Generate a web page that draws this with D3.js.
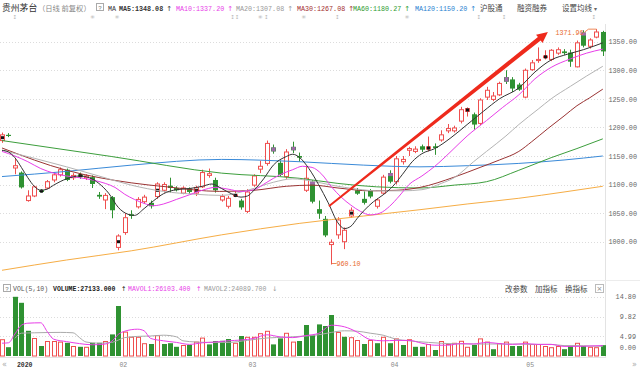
<!DOCTYPE html>
<html>
<head>
<meta charset="utf-8">
<title>贵州茅台 日线</title>
<script src="https://cdn.jsdelivr.net/npm/d3@7/dist/d3.min.js"></script>
<style>
  body { margin: 0; background: #fff; }
  #chart { width: 640px; height: 369px; overflow: hidden; }
  .mono { font-family: "Liberation Mono", "DejaVu Sans Mono", monospace; }
  .cjk { font-family: "Noto Sans CJK SC", sans-serif; }
  .sym { font-family: "DejaVu Sans", sans-serif; }
</style>
</head>
<body>
<div id="chart"></div>
<script>
// daily bars 2019-12-30 .. 2020-05-22, volume in 10k lots
const opens = [1177,1187,1129,1121,1072,1080,1090,1094,1108,1117,1126,1112,1118,1112,1113,1082,1073,1078,990,1016,
  1048,1061,1070,1068,1079,1090,1098,1094,1085,1093,1085,1096,1116,1108,1073,1062,1080,1072,1053,1099,
  1127,1137,1165,1138,1114,1166,1150,1090,1105,1057,1040,995,1012,1000,1045,1090,1075,1089,1062,1085,
  1120,1105,1140,1160,1158,1167,1162,1167,1178,1194,1194,1211,1228,1223,1207,1253,1249,1257,1288,1284,
  1275,1253,1301,1317,1322,1319,1330,1333,1331,1306,1366,1342,1358,1367];
const highs = [1191,1190,1146,1123,1090,1098,1092,1108,1122,1130,1128,1120,1121,1118,1116,1087,1085,1080,1013,1050,
  1055,1078,1082,1072,1104,1104,1112,1097,1097,1095,1098,1126,1128,1112,1083,1080,1088,1075,1092,1118,
  1142,1177,1170,1142,1162,1175,1156,1131,1108,1072,1045,1004,1043,1025,1060,1094,1088,1092,1076,1117,
  1125,1150,1150,1166,1167,1170,1184,1172,1195,1206,1203,1236,1235,1226,1251,1271,1262,1280,1300,1288,
  1278,1303,1318,1340,1335,1337,1340,1337,1336,1352,1370,1356,1371.96,1369];
const lows = [1173,1183,1118,1093,1070,1078,1086,1092,1104,1114,1106,1108,1110,1108,1094,1075,1057,1041,985,1012,
  1040,1058,1066,1058,1075,1086,1086,1088,1083,1084,1080,1094,1112,1086,1070,1058,1078,1056,1050,1096,
  1120,1133,1154,1115,1110,1155,1140,1087,1067,1040,1008,960.1,1005,987,1042,1082,1065,1076,1058,1083,
  1102,1100,1135,1150,1155,1157,1158,1152,1175,1190,1191,1207,1219,1196,1204,1248,1246,1255,1276,1262,
  1264,1251,1299,1313,1319,1316,1327,1327,1306,1305,1340,1338,1356,1325];
const closes = [1187,1185,1133,1095,1080,1096,1087,1105,1117,1126,1108,1116,1113,1115,1101,1079,1081,1055,1010,1042,
  1045,1074,1078,1062,1101,1100,1094,1090,1094,1087,1095,1121,1119,1090,1079,1076,1082,1060,1087,1115,
  1132,1172,1158,1117,1157,1160,1147,1111,1070,1049,1011,999,1038,1020,1055,1084,1068,1079,1073,1113,
  1105,1145,1144,1163,1162,1161,1166,1164,1187,1198,1199,1231,1233,1205,1248,1265,1255,1277,1280,1268,
  1266,1300,1313,1319,1325,1335,1336,1330,1315,1348,1343,1353,1367,1333];
const prevClose0 = 1183;
const volumes = [4.2,2.2,14.8,13.3,6.3,4.5,2.5,3.75,3.75,3.6,3.3,2.5,2.3,2.3,3.3,3.3,3.75,5.4,12.5,6.1,
  4.8,4.8,3.2,3.0,5.2,3.0,3.2,2.3,2.75,2.75,3.6,4.6,2.9,3.75,3.8,4.25,3.3,5.0,4.8,4.8,
  5.7,6.3,2.9,4.4,5.8,3.6,3.75,7.75,5.25,7.9,7.5,10.25,6.0,4.8,4.7,4.0,3.0,4.0,3.2,4.8,
  3.2,4.4,2.75,4.2,2.3,2.3,3.0,1.5,3.75,3.0,3.3,3.8,2.3,2.75,4.4,3.6,1.7,3.2,3.6,2.5,
  2.5,3.6,3.0,3.0,2.5,2.2,2.5,1.7,2.5,3.3,2.5,2.3,2.2,2.71];

const markBlack = [0, 6, 12, 18, 24, 30, 36, 54, 66, 72, 84];
const markPurple = [42, 45, 78];
const markPurpleTop = [48, 60, 90];

// moving averages: [bar index, value]
const ma5 = [[0,1160],[1,1157],[2,1147],[3,1130],[4,1112],[5,1097],[6,1090],[7,1092],[8,1099],[10,1110],[12,1115],
  [13.5,1112],[15,1102],[16.5,1085],[18,1060],[19.5,1048],[20.5,1046],[22,1058],[23.5,1072],[25,1084],[27,1091],
  [29,1093],[31,1097],[32.5,1101],[34,1093],[35.5,1084],[37,1078],[38,1080],[39,1090],[40.5,1110],[42,1134],
  [44,1149],[45,1153],[46,1148],[47.5,1128],[49,1100],[50.5,1068],[52,1033],[53,1023],[54,1027],[55,1041],
  [56,1054],[57.5,1070],[59,1082],[60.5,1097],[62,1118],[63.5,1140],[65,1154],[67,1163],[69.5,1182],[72,1205],
  [74.5,1228],[77,1250],[80,1269],[82.5,1297],[85,1318],[87.5,1328],[90,1336],[93,1348]];
const ma10 = [[0,1158],[2,1150],[4,1140],[6,1128],[8,1120],[10,1115],[12,1112],[14,1108],[16,1102],[17.5,1095],
  [19,1083],[20.5,1074],[22,1067],[23.5,1063],[25,1066],[27,1074],[29,1082],[31,1090],[33,1095],[35,1092],
  [37,1088],[39,1091],[41,1104],[43,1117],[45,1126],[46.5,1132],[48,1130],[49.5,1118],[51,1096],[52.5,1078],
  [54,1064],[55.5,1053],[57,1047],[58.5,1050],[60,1062],[61.5,1080],[63,1100],[65,1115],[67,1132],[69.5,1158],
  [72,1185],[75,1212],[77.5,1235],[80,1257],[82.5,1285],[85,1305],[88,1320],[90.5,1330],[93,1337]];
const ma20 = [[0,1160],[5,1146],[10,1131],[15,1115],[20,1099],[25,1088],[30,1083],[34,1081],[38,1090],[42,1104],
  [45,1110],[48,1106],[51,1099],[55,1092],[58,1089],[62,1089],[65,1091],[68,1102],[70,1112],[73,1140],
  [75,1158],[78,1185],[80,1205],[83,1232],[85,1250],[88,1272],[90.5,1290],[93,1307]];
const ma30 = [[0,1164],[10,1125],[20,1103],[25.5,1096],[33.7,1088],[39,1090],[44,1097],[48,1099],[52,1094],
  [57,1089],[61,1090],[64.7,1095],[70,1113],[74,1130],[77,1143],[80,1158],[82,1175],[84.5,1198],[87,1220],
  [89,1238],[91,1252],[93,1267]];
const ma60 = [[0,1177],[17,1149],[34,1120],[46,1111],[52,1102],[58,1096],[64.7,1094],[70,1099],[75,1105],
  [80,1125],[85,1147],[89,1163],[93,1180]];
const ma120 = [[0,1114],[10,1123],[20,1134],[34,1144],[46,1140],[56,1134],[64.7,1131],[72,1133],[80,1137],
  [87,1143],[93,1150]];
const ma250 = [[0,950],[10,968],[20,984],[34,1012],[46,1032],[56,1045],[64.7,1056],[72,1066],[80,1076],
  [87,1087],[93,1097]];
const mavol1 = [[0,3.2],[1,3.3],[2,5.5],[3,7.7],[4,8.2],[6,8.3],[7,6.1],[8,4.2],[10,3.6],[12,3.1],[14,2.8],
  [16,3.0],[17,3.7],[18,5.4],[19,6.2],[21,6.7],[22,6.3],[23,4.4],[25,3.8],[27,3.4],[29,2.9],[31,3.3],[33,3.5],
  [35,3.8],[37,4.0],[39,4.4],[41,5.3],[43,4.8],[45,4.6],[47,5.1],[49,5.65],[51,7.7],[53,7.3],[55,5.95],[57,4.1],
  [59,3.8],[61,3.9],[63,3.9],[65,3.2],[67,2.7],[69,2.7],[71,3.1],[73,3.0],[75,3.4],[77,3.1],[79,2.9],[81,3.1],
  [83,2.9],[85,2.9],[87,2.4],[89,2.4],[91,2.5],[93,2.61]];
const mavol2 = [[2,4.4],[3,5.7],[5,5.8],[9,5.9],[11,5.8],[12,4.6],[13,3.5],[15,3.2],[17,3.4],[19,4.6],[21,4.9],
  [23,5.0],[25,5.2],[27,4.8],[28,3.8],[30,3.5],[32,3.4],[35,3.4],[38,3.9],[41,4.5],[44,4.7],[47,5.0],[49,5.3],
  [51,5.9],[53,6.3],[55,6.2],[57,5.7],[59,5.2],[61,4.2],[63,3.8],[66,3.4],[70,3.05],[73,3.0],[76,3.0],[79,3.0],
  [82,2.9],[85,2.9],[87,2.6],[89,2.6],[91,2.5],[93,2.41]];

const priceTicks = [1000, 1050, 1100, 1150, 1200, 1250, 1300, 1350];
const volTicks = [0, 4.99, 9.82, 14.80];
const monthIdx = [2, 18, 38, 60, 81];
const monthLabels = ["2020", "02", "03", "04", "05"];
const events = [[2,"↕"],[14,"✳"],[17.8,"✳"],[35.7,"↕"],[36.4,"↕"],[40,"✳"],[40.9,"↕"],[46.7,"✳"],
  [51.9,"↕"],[62.7,"✳"],[73.8,"↕"],[77.7,"↕"],[91.6,"↕"]];
const highMark = { idx: 92, value: 1371.96 };
const lowMark = { idx: 51, value: 960.10 };
const trendFrom = [50.6, 1062];
const trendTo = [84.5, 1367];

const maNames = ["MA5", "MA10", "MA20", "MA30", "MA60", "MA120"];
const maLast = ["1348.08", "1337.20", "1307.08", "1267.08", "1180.27", "1150.20"];

class KlineVis {
  constructor(parentElement) {
    this.parentElement = parentElement;
    this.initVis();
  }

  initVis() {
    let vis = this;
    vis.red = "#ef4f4f";
    vis.green = "#2f9232";
    vis.colors = { ma5: "#333333", ma10: "#e83ee8", ma20: "#b4b4b4", ma30: "#9a3333",
      ma60: "#3c9e3c", ma120: "#3a8ad8", ma250: "#f6ad45" };

    vis.svg = d3.select(`#${vis.parentElement}`)
      .append("svg")
      .attr("width", 640)
      .attr("height", 369);

    vis.plotRight = 605;
    vis.x = d3.scaleLinear().domain([0, closes.length - 1]).range([2, 602.8]);
    vis.y = d3.scaleLinear().domain([1000, 1350]).range([241.7, 41.7]);
    vis.yVol = d3.scaleLinear().domain([0, 14.8]).range([356, 296.8]);

    vis.defs = vis.svg.append("defs");
    vis.defs.append("clipPath").attr("id", "priceClip")
      .append("rect").attr("x", 0).attr("y", 24).attr("width", vis.plotRight).attr("height", 256);
    vis.defs.append("clipPath").attr("id", "volClip")
      .append("rect").attr("x", 0).attr("y", 294).attr("width", vis.plotRight).attr("height", 63);

    vis.drawFrame();
    vis.drawHeader();
    vis.updateVis();
  }

  cx(i) {
    return Math.round(this.x(i)) + 0.5;
  }

  drawFrame() {
    let vis = this;
    const frame = vis.svg.append("g").attr("class", "frame");

    frame.selectAll(".grid-price")
      .data(priceTicks)
      .enter().append("line")
      .attr("class", "grid-price")
      .attr("x1", 0).attr("x2", vis.plotRight)
      .attr("y1", d => Math.round(vis.y(d)) + 0.5)
      .attr("y2", d => Math.round(vis.y(d)) + 0.5)
      .attr("stroke", "#dcdcdc")
      .attr("stroke-dasharray", "1,2");

    frame.selectAll(".grid-vol")
      .data(volTicks.slice(1))
      .enter().append("line")
      .attr("class", "grid-vol")
      .attr("x1", 0).attr("x2", vis.plotRight)
      .attr("y1", d => Math.round(vis.yVol(d)) + 0.5)
      .attr("y2", d => Math.round(vis.yVol(d)) + 0.5)
      .attr("stroke", "#dcdcdc")
      .attr("stroke-dasharray", "1,2");

    frame.append("line")
      .attr("x1", vis.plotRight + 0.5).attr("x2", vis.plotRight + 0.5)
      .attr("y1", 24).attr("y2", 358)
      .attr("stroke", "#e3e3e3");
    frame.append("line")
      .attr("x1", 0).attr("x2", 640)
      .attr("y1", 280.5).attr("y2", 280.5)
      .attr("stroke", "#ececec");
    frame.append("line")
      .attr("x1", 0).attr("x2", vis.plotRight)
      .attr("y1", 357.5).attr("y2", 357.5)
      .attr("stroke", "#e3e3e3");

    // price axis
    const yAxis = d3.axisLeft(vis.y)
      .tickValues(priceTicks)
      .tickFormat(d3.format(".2f"))
      .tickSize(0)
      .tickPadding(0);
    frame.append("g")
      .attr("class", "y-axis mono")
      .attr("transform", "translate(637,0)")
      .call(yAxis)
      .call(g => g.select(".domain").remove())
      .selectAll("text")
      .attr("fill", "#666")
      .style("font-size", "6.8px");

    const volAxis = d3.axisLeft(vis.yVol)
      .tickValues(volTicks)
      .tickFormat(d3.format(".2f"))
      .tickSize(0)
      .tickPadding(0);
    frame.append("g")
      .attr("class", "vol-axis mono")
      .attr("transform", "translate(636,0)")
      .call(volAxis)
      .call(g => g.select(".domain").remove())
      .selectAll("text")
      .attr("fill", "#666")
      .style("font-size", "6.8px")
      .attr("dy", d => d === 0 ? "-0.9em" : "0.32em");

    // month labels
    frame.selectAll(".month")
      .data(monthLabels)
      .enter().append("text")
      .attr("class", "month mono")
      .attr("x", (d, i) => i === 0 ? vis.x(monthIdx[i]) + 2 : vis.x(monthIdx[i]) + 5)
      .attr("y", 367)
      .attr("text-anchor", (d, i) => i === 0 ? "start" : "middle")
      .attr("fill", (d, i) => i === 0 ? "#333" : "#888")
      .attr("font-weight", (d, i) => i === 0 ? "bold" : "normal")
      .style("font-size", "6.5px")
      .text(d => d);

    frame.append("text").attr("class", "sym").attr("x", 2).attr("y", 367)
      .attr("fill", "#aaa").style("font-size", "8px").text("«");
    frame.append("text").attr("class", "sym").attr("x", 632).attr("y", 367)
      .attr("fill", "#aaa").style("font-size", "8px").text("»");
  }

  drawHeader() {
    let vis = this;
    const head = vis.svg.append("g").attr("class", "header");
    const base = 10.5;

    head.append("text").attr("class", "cjk").attr("x", 2).attr("y", base + 0.5)
      .attr("fill", "#333").style("font-size", "8.8px").text("贵州茅台");
    head.append("text").attr("class", "cjk").attr("x", 38).attr("y", base)
      .attr("fill", "#888").style("font-size", "7.3px").text("（日线 前复权）");
    vis.helpBox(head, 96, 3.5);
    head.append("text").attr("class", "mono").attr("x", 108).attr("y", base)
      .attr("fill", "#333").style("font-size", "6.7px").text("MA");

    const maColors = [vis.colors.ma5, vis.colors.ma10, "#999", "#a32e2e", "#2e9a2e", "#2a7fd0"];
    const maX = [119, 176, 236, 297, 353, 415];
    maNames.forEach((name, i) => {
      const label = `${name}:${maLast[i]}`;
      head.append("text").attr("class", "mono").attr("x", maX[i]).attr("y", base)
        .attr("fill", maColors[i]).attr("font-weight", i === 0 ? "bold" : "normal")
        .style("font-size", "6.7px").text(label);
      head.append("text").attr("class", "sym").attr("x", maX[i] + label.length * 4.02 + 3).attr("y", base)
        .attr("fill", maColors[i]).style("font-size", "7px").text("↑");
    });

    [["沪股通", 480], ["融资融券", 517], ["设置均线", 562]].forEach(d => {
      head.append("text").attr("class", "cjk").attr("x", d[1]).attr("y", base)
        .attr("fill", "#444").style("font-size", "7.5px").text(d[0]);
    });
    head.append("text").attr("class", "sym").attr("x", 594).attr("y", base)
      .attr("fill", "#666").style("font-size", "6px").text("▾");

    head.selectAll(".event")
      .data(events)
      .enter().append("text")
      .attr("class", "event sym")
      .attr("x", d => vis.x(d[0]))
      .attr("y", 19)
      .attr("text-anchor", "middle")
      .attr("fill", "#b5b5b5")
      .style("font-size", "5.5px")
      .text(d => d[1]);

    // volume pane header
    const vbase = 291;
    vis.helpBox(head, 3, 284.5);
    const volItems = [
      [13, "VOL(5,10)", "#555", "normal"],
      [53, "VOLUME:27133.000", "#222", "bold"],
      [121, "↑", "#222", "normal"],
      [128, "MAVOL1:26103.400", vis.colors.ma10, "normal"],
      [196, "↑", vis.colors.ma10, "normal"],
      [204, "MAVOL2:24089.700", "#999", "normal"],
      [272, "↓", "#999", "normal"]
    ];
    volItems.forEach(d => {
      head.append("text").attr("class", d[1].length === 1 ? "sym" : "mono")
        .attr("x", d[0]).attr("y", vbase)
        .attr("fill", d[2]).attr("font-weight", d[3])
        .style("font-size", "6.5px").text(d[1]);
    });
    [["改参数", 505], ["加指标", 535], ["换指标", 565]].forEach(d => {
      head.append("text").attr("class", "cjk").attr("x", d[1]).attr("y", vbase + 1)
        .attr("fill", "#444").style("font-size", "7.5px").text(d[0]);
    });
    head.append("rect").attr("x", 595.5).attr("y", 284.5).attr("width", 8).attr("height", 8)
      .attr("fill", "#fff").attr("stroke", "#bbb");
    head.append("text").attr("class", "sym").attr("x", 599.5).attr("y", 291)
      .attr("text-anchor", "middle").attr("fill", "#888").style("font-size", "7px").text("×");
  }

  helpBox(g, x, y) {
    g.append("rect").attr("x", x + 0.5).attr("y", y).attr("width", 7).attr("height", 7)
      .attr("fill", "#fff").attr("stroke", "#aaa");
    g.append("text").attr("class", "mono").attr("x", x + 4).attr("y", y + 6)
      .attr("text-anchor", "middle").attr("fill", "#777").style("font-size", "6px").text("?");
  }

  updateVis() {
    let vis = this;
    vis.displayData = closes.map((c, i) => ({
      i: i, o: opens[i], h: highs[i], l: lows[i], c: c, v: volumes[i],
      up: c >= opens[i],
      volUp: c >= (i === 0 ? prevClose0 : closes[i - 1])
    }));

    // long averages sit behind the bars
    const line = d3.line()
      .x(d => vis.x(d[0]))
      .y(d => vis.y(d[1]))
      .curve(d3.curveMonotoneX);
    const priceLines = vis.svg.append("g").attr("clip-path", "url(#priceClip)");
    [[ma250, vis.colors.ma250], [ma120, vis.colors.ma120], [ma60, vis.colors.ma60],
     [ma30, vis.colors.ma30], [ma20, vis.colors.ma20]].forEach(d => {
      priceLines.append("path").datum(d[0])
        .attr("d", line).attr("fill", "none")
        .attr("stroke", d[1]).attr("stroke-width", 1);
    });

    const candles = vis.svg.append("g").attr("class", "candles").selectAll(".candle")
      .data(vis.displayData)
      .enter().append("g")
      .attr("class", "candle");

    candles.append("line")
      .attr("x1", d => vis.cx(d.i)).attr("x2", d => vis.cx(d.i))
      .attr("y1", d => vis.y(d.h)).attr("y2", d => vis.y(d.l))
      .attr("stroke", d => d.up ? vis.red : vis.green)
      .attr("stroke-width", 1);

    candles.append("rect")
      .attr("x", d => d.up ? vis.cx(d.i) - 2 : vis.cx(d.i) - 2.5)
      .attr("width", d => d.up ? 4 : 5)
      .attr("y", d => vis.y(Math.max(d.o, d.c)))
      .attr("height", d => Math.max(1, vis.y(Math.min(d.o, d.c)) - vis.y(Math.max(d.o, d.c))))
      .attr("fill", d => d.up ? "#fff" : vis.green)
      .attr("stroke", d => d.up ? vis.red : "none")
      .attr("stroke-width", 1);

    vis.svg.append("g").selectAll(".mark-purple")
      .data(markPurple)
      .enter().append("rect")
      .attr("x", i => vis.cx(i) - 2)
      .attr("width", 4)
      .attr("y", i => vis.y(Math.max(opens[i], closes[i])))
      .attr("height", i => Math.max(2, vis.y(Math.min(opens[i], closes[i])) - vis.y(Math.max(opens[i], closes[i]))))
      .attr("fill", "#9e6aa8");

    vis.svg.append("g").selectAll(".mark-purple-top")
      .data(markPurpleTop)
      .enter().append("rect")
      .attr("x", i => vis.cx(i) - 2.5)
      .attr("width", 5)
      .attr("y", i => vis.y(Math.max(opens[i], closes[i])))
      .attr("height", 3)
      .attr("fill", "#9e6aa8");

    vis.svg.append("g").selectAll(".mark-black")
      .data(markBlack)
      .enter().append("rect")
      .attr("x", i => vis.cx(i) - 1.5)
      .attr("width", 3)
      .attr("y", i => vis.y((opens[i] + closes[i]) / 2) - 1.5)
      .attr("height", 3)
      .attr("fill", "#111");

    // short averages on top
    [[ma10, vis.colors.ma10], [ma5, vis.colors.ma5]].forEach(d => {
      priceLines.append("path").datum(d[0])
        .attr("d", line).attr("fill", "none")
        .attr("stroke", d[1]).attr("stroke-width", 1);
    });
    priceLines.raise();

    // trend arrow
    const s = [vis.x(trendFrom[0]), vis.y(trendFrom[1])];
    const e = [vis.x(trendTo[0]), vis.y(trendTo[1])];
    const len = Math.hypot(e[0] - s[0], e[1] - s[1]);
    const u = [(e[0] - s[0]) / len, (e[1] - s[1]) / len];
    const n = [-u[1], u[0]];
    const b = [e[0] - u[0] * 11, e[1] - u[1] * 11];
    const pts = [
      [s[0] + n[0] * 0.9, s[1] + n[1] * 0.9],
      [b[0] + n[0] * 2.2, b[1] + n[1] * 2.2],
      [b[0] + n[0] * 5.2, b[1] + n[1] * 5.2],
      e,
      [b[0] - n[0] * 5.2, b[1] - n[1] * 5.2],
      [b[0] - n[0] * 2.2, b[1] - n[1] * 2.2],
      [s[0] - n[0] * 0.9, s[1] - n[1] * 0.9]
    ];
    vis.svg.append("path")
      .attr("d", d3.line()(pts) + "Z")
      .attr("fill", "#ee2a1c");

    // high / low labels
    const hx = vis.cx(highMark.idx), hy = vis.y(highMark.value);
    vis.svg.append("polyline")
      .attr("points", `${hx},${hy} ${hx - 8},${hy} ${hx - 12},${hy + 3}`)
      .attr("fill", "none").attr("stroke", "#e8692e").attr("stroke-width", 0.8);
    vis.svg.append("text").attr("class", "mono")
      .attr("x", hx - 13).attr("y", hy + 5.5)
      .attr("text-anchor", "end").attr("fill", "#e8692e")
      .style("font-size", "6.7px").text(highMark.value.toFixed(2));

    const lx = vis.cx(lowMark.idx), ly = vis.y(lowMark.value);
    vis.svg.append("line")
      .attr("x1", lx).attr("x2", lx + 5).attr("y1", ly - 1).attr("y2", ly - 1)
      .attr("stroke", "#e8692e").attr("stroke-width", 0.8);
    vis.svg.append("text").attr("class", "mono")
      .attr("x", lx + 5).attr("y", ly + 1.5)
      .attr("fill", "#e8692e")
      .style("font-size", "6.7px").text(lowMark.value.toFixed(2));

    // volume
    vis.svg.append("g").attr("class", "volumes").selectAll(".vol")
      .data(vis.displayData)
      .enter().append("rect")
      .attr("class", "vol")
      .attr("x", d => d.volUp ? vis.cx(d.i) - 2 : vis.cx(d.i) - 2.5)
      .attr("width", d => d.volUp ? 4 : 5)
      .attr("y", d => vis.yVol(d.v) + (d.volUp ? 0.5 : 0))
      .attr("height", d => vis.yVol(0) - vis.yVol(d.v) - (d.volUp ? 0.5 : 0))
      .attr("fill", d => d.volUp ? "#fff" : vis.green)
      .attr("stroke", d => d.volUp ? vis.red : "none");

    const vline = d3.line()
      .x(d => vis.x(d[0]))
      .y(d => vis.yVol(d[1]))
      .curve(d3.curveMonotoneX);
    const volLines = vis.svg.append("g").attr("clip-path", "url(#volClip)");
    [[mavol2, "#aaaaaa"], [mavol1, vis.colors.ma10]].forEach(d => {
      volLines.append("path").datum(d[0])
        .attr("d", vline).attr("fill", "none")
        .attr("stroke", d[1]).attr("stroke-width", 1);
    });
  }
}

new KlineVis("chart");
</script>
</body>
</html>
